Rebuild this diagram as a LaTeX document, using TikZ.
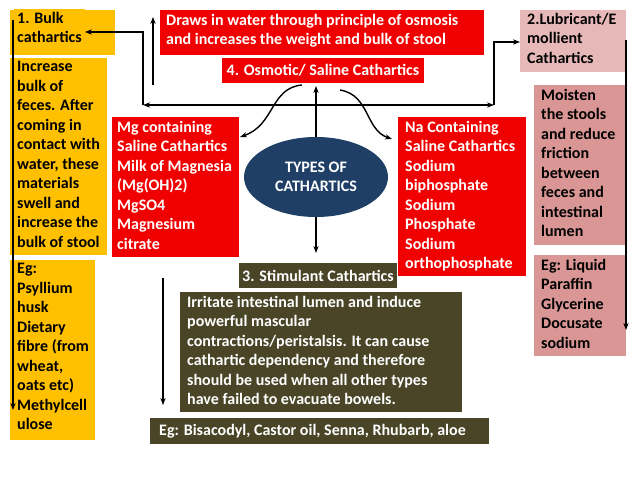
\documentclass[tikz,border=0pt]{standalone}
\usepackage{fontspec}
\setmainfont{Carlito}
\usetikzlibrary{arrows.meta,shapes.geometric}
\definecolor{org}{HTML}{FFC000}
\definecolor{rd}{HTML}{F00000}
\definecolor{pk1}{HTML}{E6B9B8}
\definecolor{pk2}{HTML}{D99694}
\definecolor{olv}{HTML}{4A4527}
\definecolor{nav}{HTML}{1F3F66}
\tikzset{
 bx/.style={anchor=north west,inner sep=3pt,align=left,font=\bfseries\fontsize{16}{19.5}\selectfont},
 ob/.style={bx,fill=org,text=black},
 rb/.style={bx,fill=rd,text=white},
 pb/.style={bx,text=black},
 gb/.style={bx,fill=olv,text=white},
 ar/.style={-{Stealth[length=7pt]},line width=1.4pt},
}
\begin{document}
\begin{tikzpicture}[x=1pt,y=-1pt]
\useasboundingbox[fill=white] (0,0) rectangle (638,478);
\fill[org] (10,10) rectangle (115,55);
\node[ob] (b1) at (14,9) {1. Bulk\\cathartics};
\fill[org] (10,58) rectangle (107,255);
\node[ob] (b2) at (14,58) {Increase\\bulk of\\feces. After\\coming in\\contact with\\water, these\\materials\\swell and\\increase the\\bulk of stool};
\fill[org] (10,260) rectangle (95,440);
\node[ob] (b3) at (14,260) {Eg:\\Psyllium\\husk\\Dietary\\fibre (from\\wheat,\\oats etc)\\Methylcell\\ulose};
\fill[rd] (160,10) rectangle (484,55);
\node[rb] (t1) at (163,11) {Draws in water through principle of osmosis\\and increases the weight and bulk of stool};
\fill[rd] (222,58) rectangle (424,83);
\node[rb,anchor=center] (t2) at (323,70.5) {4. Osmotic/ Saline Cathartics};
\fill[rd] (112,117) rectangle (239,257);
\node[rb] (mg) at (114,118) {Mg containing\\Saline Cathartics\\Milk of Magnesia\\(Mg(OH)2)\\MgSO4\\Magnesium\\citrate};
\fill[rd] (398,117) rectangle (526,276);
\node[rb] (na) at (402,118) {Na Containing\\Saline Cathartics\\Sodium\\biphosphate\\Sodium\\Phosphate\\Sodium\\orthophosphate};
\node[ellipse,fill=nav,minimum width=144pt,minimum height=80pt,text=white,align=center,font=\bfseries\fontsize{16}{19.5}\selectfont] (el) at (316,177) {TYPES OF\\CATHARTICS};
\fill[pk1] (520,10) rectangle (626,72);
\node[pb] (p1) at (524,10) {2.Lubricant/E\\mollient\\Cathartics};
\fill[pk2] (534,85) rectangle (626,245);
\node[pb] (p2) at (538,86) {Moisten\\the stools\\and reduce\\friction\\between\\feces and\\intestinal\\lumen};
\fill[pk2] (534,255) rectangle (626,356);
\node[pb] (p3) at (538,256) {Eg: Liquid\\Paraffin\\Glycerine\\Docusate\\sodium};
\fill[olv] (239,263) rectangle (397,288);
\node[gb,anchor=center] (s1) at (318,275.5) {3. Stimulant Cathartics};
\fill[olv] (180,292) rectangle (462,412);
\node[gb] (s2) at (184,293) {Irritate intestinal lumen and induce\\powerful mascular\\contractions/peristalsis. It can cause\\cathartic dependency and therefore\\should be used when all other types\\have failed to evacuate bowels.};
\fill[olv] (150,418) rectangle (489,444);
\node[gb,anchor=west] (s3) at (156,431) {Eg: Bisacodyl, Castor oil, Senna, Rhubarb, aloe};
% connectors
\coordinate (hl) at (143,105); \coordinate (hr) at (494,105);
\coordinate (cm) at (316,105);
\draw[ar] (cm) -- (hl);
\draw[ar] (cm) -- (hr);
\draw[ar] (hl) -- (143,32) -- (b1.east |- 0,32);
\draw[ar] (hr) -- (494,42) -- (520,42);
\draw[ar] (153,85) -- (153,17);
\draw[ar] (el.north) -- (316,86);
\draw[ar] (el.south) -- (316,253);
\draw[ar] (302,85) .. controls (270,88) and (275,125) .. (240,137);
\draw[ar] (340,90) .. controls (370,95) and (365,130) .. (392,139);
\draw[ar] (13,20) -- (13,410);
\draw[ar] (626,40) -- (626,330);
\draw[ar] (163,278) -- (163,405);
\end{tikzpicture}
\end{document}
